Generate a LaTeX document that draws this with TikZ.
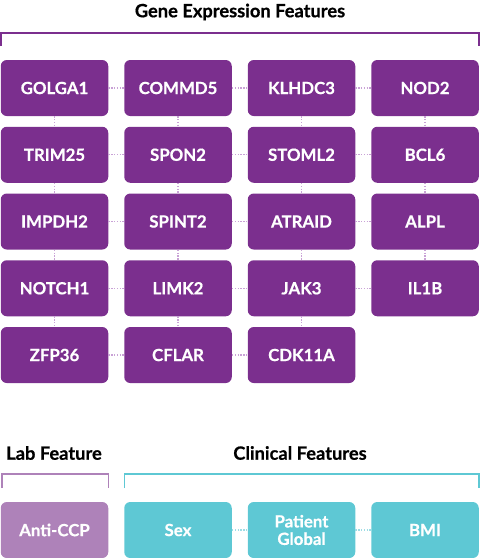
\documentclass[tikz,border=0pt]{standalone}
\usepackage{fontspec}
\setmainfont{Lato}[BoldFeatures={FakeBold=0.6}]
\definecolor{gene}{HTML}{7B2F8E}
\definecolor{genedot}{HTML}{C9A2D6}
\definecolor{lab}{HTML}{AE82B9}
\definecolor{clin}{HTML}{5EC8D4}
\definecolor{clindot}{HTML}{9EDDE5}
\tikzset{
  box/.style={rounded corners=6pt, minimum width=107.5pt, minimum height=56pt, inner sep=0pt,
    text=white, font=\fontsize{16.8}{17.5}\selectfont\bfseries, align=center},
  genebox/.style={box, fill=gene},
  labbox/.style={box, fill=lab},
  clinbox/.style={box, fill=clin},
  geneconn/.style={draw=genedot, line width=1.3pt, dash pattern=on 1.4pt off 1.4pt},
  clinconn/.style={draw=clindot, line width=1.3pt, dash pattern=on 1.4pt off 1.4pt},
  heading/.style={font=\fontsize{18.3}{20}\selectfont\bfseries, text=black},
}
\begin{document}
\begin{tikzpicture}[x=1pt,y=-1pt]
\useasboundingbox (0,0) rectangle (480,558);
% headings
\node[heading] (hgene) at (240,12) {Gene Expression Features};
\node[heading] (hlab) at (54,453) {Lab Feature};
\node[heading] (hclin) at (300,453) {Clinical Features};
% brackets
\draw[gene, line width=2pt] (1,46) -- (1,33) -- (479,33) -- (479,46);
\draw[lab, line width=1.8pt] (2,488) -- (2,474) -- (108.5,474) -- (108.5,488);
\draw[clin, line width=1.8pt] (124.5,488) -- (124.5,474) -- (479,474) -- (479,488);
% gene boxes
\def\ca{54.5}\def\cb{178}\def\cc{301.5}\def\cd{425}
\def\ra{88}\def\rb{154.75}\def\rc{221.5}\def\rd{288.25}\def\re{355}
\node[genebox] (golga1) at (\ca,\ra) {GOLGA1};
\node[genebox] (commd5) at (\cb,\ra) {COMMD5};
\node[genebox] (klhdc3) at (\cc,\ra) {KLHDC3};
\node[genebox] (nod2) at (\cd,\ra) {NOD2};
\node[genebox] (trim25) at (\ca,\rb) {TRIM25};
\node[genebox] (spon2) at (\cb,\rb) {SPON2};
\node[genebox] (stoml2) at (\cc,\rb) {STOML2};
\node[genebox] (bcl6) at (\cd,\rb) {BCL6};
\node[genebox] (impdh2) at (\ca,\rc) {IMPDH2};
\node[genebox] (spint2) at (\cb,\rc) {SPINT2};
\node[genebox] (atraid) at (\cc,\rc) {ATRAID};
\node[genebox] (alpl) at (\cd,\rc) {ALPL};
\node[genebox] (notch1) at (\ca,\rd) {NOTCH1};
\node[genebox] (limk2) at (\cb,\rd) {LIMK2};
\node[genebox] (jak3) at (\cc,\rd) {JAK3};
\node[genebox] (il1b) at (\cd,\rd) {IL1B};
\node[genebox] (zfp36) at (\ca,\re) {ZFP36};
\node[genebox] (cflar) at (\cb,\re) {CFLAR};
\node[genebox] (cdk11a) at (\cc,\re) {CDK11A};
% bottom boxes
\node[labbox] (anticcp) at (\ca,530) {Anti-CCP};
\node[clinbox] (sex) at (\cb,530) {Sex};
\node[clinbox] (pglobal) at (\cc,530) {Patient\\Global};
\node[clinbox] (bmi) at (\cd,530) {BMI};
% horizontal connectors
\foreach \a/\b in {golga1/commd5,commd5/klhdc3,klhdc3/nod2,
  trim25/spon2,spon2/stoml2,stoml2/bcl6,
  impdh2/spint2,spint2/atraid,atraid/alpl,
  notch1/limk2,limk2/jak3,jak3/il1b,
  zfp36/cflar,cflar/cdk11a}
  \path[geneconn] (\a.east) -- (\b.west);
% vertical connectors
\foreach \a/\b in {golga1/trim25,trim25/impdh2,impdh2/notch1,notch1/zfp36,
  commd5/spon2,spon2/spint2,spint2/limk2,limk2/cflar,
  klhdc3/stoml2,stoml2/atraid,atraid/jak3,jak3/cdk11a,
  nod2/bcl6,bcl6/alpl,alpl/il1b}
  \path[geneconn] (\a.south) -- (\b.north);
\path[clinconn] (sex.east) -- (pglobal.west);
\path[clinconn] (pglobal.east) -- (bmi.west);
\end{tikzpicture}
\end{document}
